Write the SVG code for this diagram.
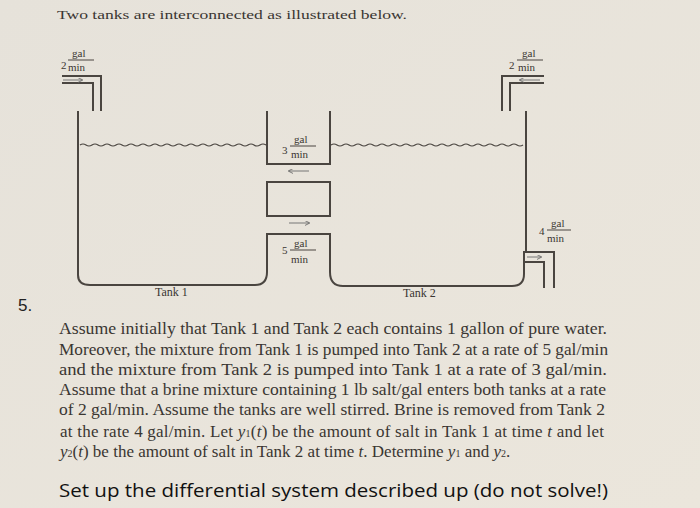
<svg xmlns="http://www.w3.org/2000/svg" width="700" height="508" viewBox="0 0 700 508">
<defs>
<linearGradient id="bg" x1="0" y1="0" x2="1" y2="1">
<stop offset="0" stop-color="#e6e2da"/><stop offset="1" stop-color="#ebe6dc"/>
</linearGradient>
<marker id="ah" viewBox="0 0 6 6" refX="5" refY="3" markerWidth="5" markerHeight="5" orient="auto"><path d="M0,0L6,3L0,6" fill="none" stroke="#666" stroke-width="1"/></marker>
</defs>
<style>
.w{fill:none;stroke:#4a4540;stroke-width:2}
.s{font-family:"Liberation Serif",serif;fill:#3a3632}
.f{font-size:11px}
.p{font-size:16px}
.a{stroke:#777;stroke-width:1;marker-end:url(#ah)}
</style>
<rect width="700" height="508" fill="url(#bg)"/>
<text class="s" x="57" y="19" font-size="13.5" textLength="350" lengthAdjust="spacingAndGlyphs">Two tanks are interconnected as illustrated below.</text>
<g id="tanks">
<path class="w" d="M78,111 V275 Q78,285 90,285 H255 Q267,285 267,272 V234 H330 V272 Q330,286 343,286 H512 Q524,286 524,274 V252 H554 V288"/>
<path class="w" d="M524,262 H544 V288"/>
<path class="w" d="M526,111 V252"/>
<path class="w" d="M267,111 V164 H330 V111"/>
<rect class="w" x="267" y="182" width="63" height="34"/>
<path fill="none" stroke="#4a4540" stroke-width="1.2" d="M80,145 q3,-2 6,0 t6,0 t6,0 t6,0 t6,0 t6,0 t6,0 t6,0 t6,0 t6,0 t6,0 t6,0 t6,0 t6,0 t6,0 t6,0 t6,0 t6,0 t6,0 t6,0 t6,0 t6,0 t6,0 t6,0 t6,0 t6,0 t6,0 t6,0 t6,0 t6,0 t6,0 M331,145 q3,-2 6,0 t6,0 t6,0 t6,0 t6,0 t6,0 t6,0 t6,0 t6,0 t6,0 t6,0 t6,0 t6,0 t6,0 t6,0 t6,0 t6,0 t6,0 t6,0 t6,0 t6,0 t6,0 t6,0 t6,0 t6,0 t6,0 t6,0 t6,0 t6,0 t6,0 t6,0 t6,0"/>
<text class="s" x="155" y="296" font-size="12">Tank 1</text>
<text class="s" x="403" y="297" font-size="12">Tank 2</text>
</g>
<g id="pipes">
<path class="w" d="M62,76 H101 V111"/>
<path class="w" d="M62,83 H93 V111"/>
<path class="w" d="M544,76 H502 V111"/>
<path class="w" d="M544,83 H510 V111"/>
</g>
<g id="connectors">
<line class="a" x1="63" y1="80" x2="82" y2="80"/>
<line class="a" x1="540" y1="80" x2="520" y2="80"/>
<line class="a" x1="309" y1="171" x2="289" y2="171"/>
<line class="a" x1="289" y1="223" x2="309" y2="223"/>
<line class="a" x1="527" y1="257" x2="541" y2="257"/>
</g>
<g id="labels">
<text class="s f" x="61" y="69">2</text><text class="s f" x="72" y="57">gal</text><line x1="68" y1="60" x2="94" y2="60" stroke="#4a4540"/><text class="s f" x="68" y="71">min</text>
<text class="s f" x="509" y="69">2</text><text class="s f" x="522" y="57">gal</text><line x1="517" y1="60" x2="543" y2="60" stroke="#4a4540"/><text class="s f" x="518" y="71">min</text>
<text class="s f" x="282" y="154">3</text><text class="s f" x="294" y="143">gal</text><line x1="290" y1="146" x2="316" y2="146" stroke="#4a4540"/><text class="s f" x="291" y="158">min</text>
<text class="s f" x="282" y="254">5</text><text class="s f" x="294" y="247">gal</text><line x1="290" y1="250" x2="316" y2="250" stroke="#4a4540"/><text class="s f" x="291" y="263">min</text>
<text class="s f" x="539" y="235">4</text><text class="s f" x="551" y="227">gal</text><line x1="547" y1="230" x2="571" y2="230" stroke="#4a4540"/><text class="s f" x="547" y="242">min</text>
</g>
<text x="18" y="311" font-family="Liberation Sans,sans-serif" font-size="17" fill="#222">5.</text>
<g class="s p">
<text x="59" y="334" textLength="548" lengthAdjust="spacingAndGlyphs">Assume initially that Tank 1 and Tank 2 each contains 1 gallon of pure water.</text>
<text x="59" y="355" textLength="549" lengthAdjust="spacingAndGlyphs">Moreover, the mixture from Tank 1 is pumped into Tank 2 at a rate of 5 gal/min</text>
<text x="59" y="375" textLength="548" lengthAdjust="spacingAndGlyphs">and the mixture from Tank 2 is pumped into Tank 1 at a rate of 3 gal/min.</text>
<text x="59" y="395" textLength="547" lengthAdjust="spacingAndGlyphs">Assume that a brine mixture containing 1 lb salt/gal enters both tanks at a rate</text>
<text x="59" y="415" textLength="546" lengthAdjust="spacingAndGlyphs">of 2 gal/min. Assume the tanks are well stirred. Brine is removed from Tank 2</text>
<text x="60" y="437" font-size="17" textLength="544" lengthAdjust="spacing">at the rate 4 gal/min. Let <tspan font-style="italic">y</tspan><tspan font-size="10">1</tspan>(<tspan font-style="italic">t</tspan>) be the amount of salt in Tank 1 at time <tspan font-style="italic">t</tspan> and let</text>
<text x="60" y="457" font-size="17"><tspan font-style="italic">y</tspan><tspan font-size="10">2</tspan>(<tspan font-style="italic">t</tspan>) be the amount of salt in Tank 2 at time <tspan font-style="italic">t</tspan>. Determine <tspan font-style="italic">y</tspan><tspan font-size="10">1</tspan> and <tspan font-style="italic">y</tspan><tspan font-size="10">2</tspan>.</text>
</g>
<text x="59" y="497" font-family="Open Sans,sans-serif" font-size="18" fill="#111" textLength="549" lengthAdjust="spacingAndGlyphs">Set up the differential system described up (do not solve!)</text>
</svg>
